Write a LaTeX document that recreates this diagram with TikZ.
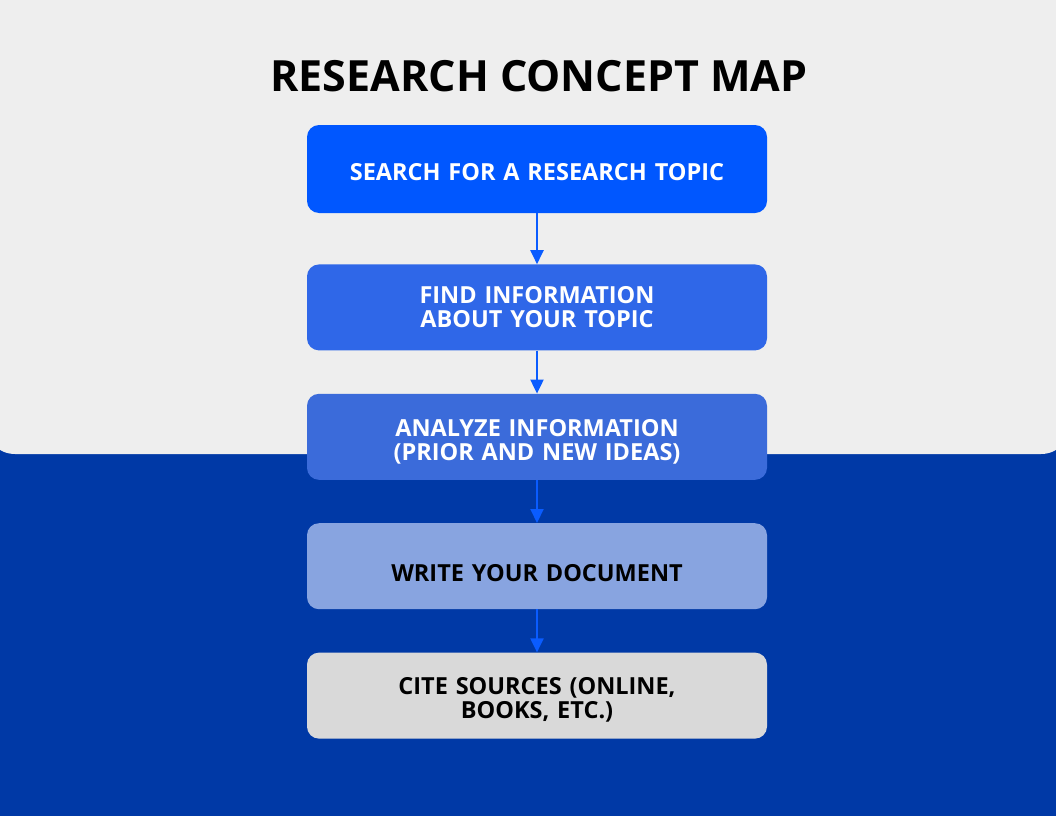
\documentclass[tikz,border=0pt]{standalone}
\usepackage{fontspec}
\setmainfont{Open Sans}
\usepackage{tikz}
\usetikzlibrary{arrows.meta}
\usetikzlibrary{positioning}
\definecolor{pagegray}{HTML}{EEEEEE}
\definecolor{pageblue}{HTML}{0039A6}
\definecolor{stepA}{HTML}{0057FF}
\definecolor{stepB}{HTML}{2F67E8}
\definecolor{stepC}{HTML}{3B6BDA}
\definecolor{stepD}{HTML}{88A4E0}
\definecolor{stepE}{HTML}{D9D9D9}
\definecolor{flowblue}{HTML}{0A5CFF}

\begin{document}
\begin{tikzpicture}[x=1pt,y=1pt,node distance=43pt,
			>={Triangle[length=14pt,width=13pt]},
			every edge/.style={draw=flowblue,line width=2pt,->}]
			\tikzstyle{stepbox}=[rounded corners=12pt,minimum width=460pt,minimum height=86pt,inner sep=0pt]
			\tikzstyle{steptext}=[text width=440pt,align=center,inner sep=0pt,
				font=\fontsize{23.5}{24}\selectfont\bfseries]
			
			\useasboundingbox (0,0) rectangle (1056,-816);
			\fill[pageblue] (0,0) rectangle (1056,-816);
			\fill[pagegray,rounded corners=30pt] (-15,40) rectangle (1071,-454);
			
			\node[font=\fontsize{43}{48}\selectfont\bfseries] (title) at (539,-76) {RESEARCH CONCEPT MAP};
			
			% boxes
			\node[stepbox,fill=stepA,minimum height=88pt] (search) at (537,-169) {};
			\node[stepbox,fill=stepB] (find) [below=51pt of search] {};
			\node[stepbox,fill=stepC] (analyze) [below=of find] {};
			\node[stepbox,fill=stepD] (write) [below=of analyze] {};
			\node[stepbox,fill=stepE] (cite) [below=of write] {};
			
			% texts
			\node[steptext,text=white] (searchtext) at ([yshift=-3.5pt]search.center) {SEARCH FOR A RESEARCH TOPIC};
			\node[steptext,text=white] (findtext) at (find.center) {FIND INFORMATION\\ABOUT YOUR TOPIC};
			\node[steptext,text=white] (analyzetext) at ([yshift=-5pt]analyze.center) {ANALYZE INFORMATION\\(PRIOR AND NEW IDEAS)};
			\node[steptext,text=black] (writetext) at ([yshift=-6.5pt]write.center) {WRITE YOUR DOCUMENT};
			\node[steptext,text=black] (citetext) at ([yshift=-4.5pt]cite.center) {CITE SOURCES (ONLINE,\\BOOKS, ETC.)};
			
			\path
				(search.south)  edge (find.north)
				(find.south)    edge (analyze.north)
				(analyze.south) edge (write.north)
				(write.south)   edge (cite.north)
			;
\end{tikzpicture}
\end{document}
